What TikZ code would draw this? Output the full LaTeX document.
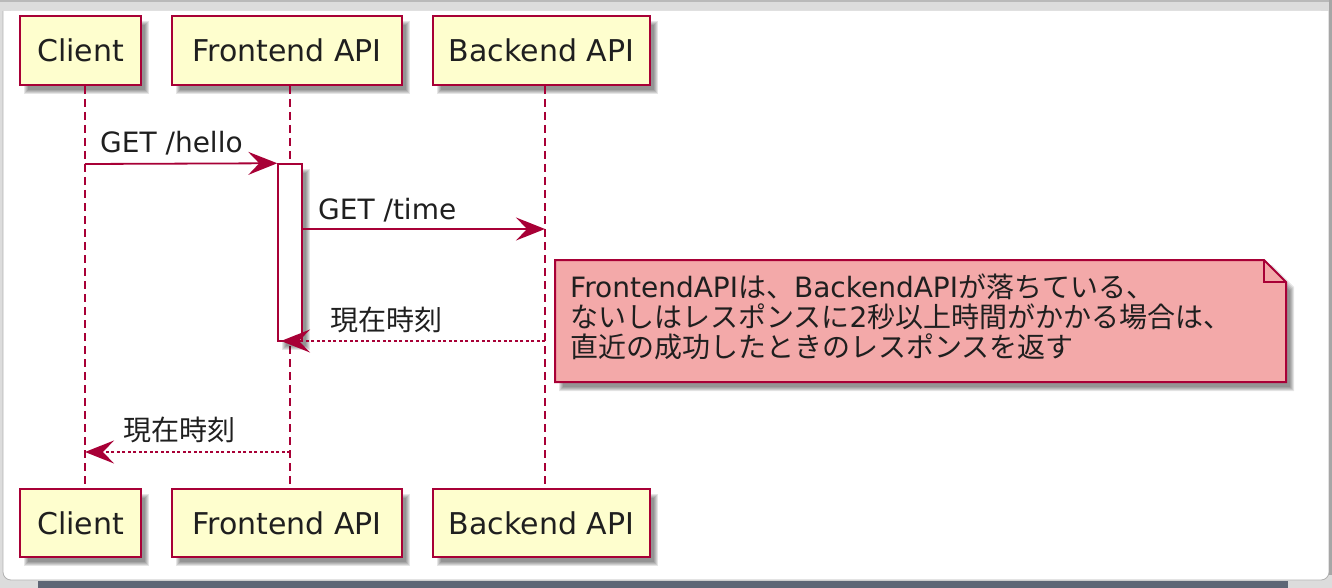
\documentclass[tikz,border=0pt]{standalone}
\usepackage{fontspec}
\setmainfont{DejaVu Sans}
\newfontfamily\jp{Noto Sans CJK JP}
\usetikzlibrary{arrows.meta}
\definecolor{pu}{HTML}{A80036}
\definecolor{pfill}{HTML}{FEFECE}
\definecolor{nfill}{HTML}{F3A9A9}
\definecolor{slate}{HTML}{5E6675}
\definecolor{winbg}{HTML}{DCDCDC}
\newcommand\myshadow[4]{%
  \foreach \e in {-2,-1,0,1,2}{%
    \fill[black,opacity=0.1] ({#1+6+\e},{#2+7+\e}) rectangle ({#3+6-\e},{#4+7-\e});}}
\tikzset{
  partbox/.style={draw=pu, line width=2pt, fill=pfill, inner sep=0pt,
    font=\fontsize{30}{36}\selectfont, text=black!88},
  lifeline/.style={draw=pu, line width=1.6pt, dash pattern=on 8pt off 5pt},
  msg/.style={draw=pu, line width=1.8pt, -{Stealth[length=29pt,width=23pt,inset=11pt]}},
  ret/.style={draw=pu, line width=1.5pt, dash pattern=on 3pt off 2.5pt,
    -{Stealth[length=29pt,width=23pt,inset=11pt]}},
  lbl/.style={anchor=base west, inner sep=0pt, font=\fontsize{28}{34}\selectfont, text=black!88},
  actbox/.style={draw=pu, line width=1.5pt, fill=white, inner sep=0pt},
}
\begin{document}
\begin{tikzpicture}[x=1pt,y=-1pt]
\useasboundingbox (0,0) rectangle (1332,588);
% window frame
\fill[winbg] (0,0) rectangle (1332,588);
\fill[gray!55] (0,0) rectangle (1332,2);
\fill[slate] (38,581) rectangle (1288,588);
\fill[white,rounded corners=8pt] (3,11) rectangle (1329,580);
\fill[white] (3,11) rectangle (1329,40);
\draw[gray!60,line width=0.8pt,rounded corners=8pt] (3,11) -- (3,580) -- (1329,580) -- (1329,11);
\fill[gray!70] (1329,0) rectangle (1332,575);

% top participants
\myshadow{20}{16}{141}{85}
\myshadow{172}{16}{402}{85}
\myshadow{433}{16}{650}{85}
\node[partbox, minimum width=121pt, minimum height=69pt] (c1) at (80.5,50.5) {Client};
\node[partbox, minimum width=230pt, minimum height=69pt] (f1) at (287,50.5) {Frontend API};
\node[partbox, minimum width=217pt, minimum height=69pt] (b1) at (541.5,50.5) {Backend API};

% bottom participants
\myshadow{20}{489}{141}{557}
\myshadow{172}{489}{402}{557}
\myshadow{433}{489}{650}{557}
\node[partbox, minimum width=121pt, minimum height=68pt] (c2) at (80.5,523) {Client};
\node[partbox, minimum width=230pt, minimum height=68pt] (f2) at (287,523) {Frontend API};
\node[partbox, minimum width=217pt, minimum height=68pt] (b2) at (541.5,523) {Backend API};

% lifeline ends
\coordinate (cT) at (85,86);  \coordinate (cB) at (85,488);
\coordinate (fT) at (290,86); \coordinate (fB) at (290,488);
\coordinate (bT) at (545,86); \coordinate (bB) at (545,488);
\draw[lifeline] (cT) -- (cB);
\draw[lifeline] (fT) -- (fB);
\draw[lifeline] (bT) -- (bB);

% activation
\myshadow{278}{164}{302}{341}
\node[actbox, minimum width=24pt, minimum height=177pt] (act) at (290,252.5) {};

% note
\foreach \e in {-2,-1,0,1,2}{%
  \fill[black,opacity=0.1] ({561+\e},{267+\e}) -- ({1270-\e},{267+\e}) -- ({1292-\e},{289+\e}) -- ({1292-\e},{389-\e}) -- ({561+\e},{389-\e}) -- cycle;}
\draw[pu, line width=2pt, fill=nfill] (555,260) -- (1264,260) -- (1286,282) -- (1286,382) -- (555,382) -- cycle;
\draw[pu, line width=2pt] (1264,260) -- (1264,282) -- (1286,282);
\node[lbl] (n1) at (570,297) {FrontendAPI{\jp は、}BackendAPI{\jp が落ちている、}};
\node[lbl] (n2) at (570,327) {{\jp ないしはレスポンスに}2{\jp 秒以上時間がかかる場合は、}};
\node[lbl] (n3) at (570,357) {{\jp 直近の成功したときのレスポンスを返す}};

% messages
\coordinate (m1s) at (85,164);
\draw[msg] (m1s) -- (act.north west);
\node[lbl] (l1) at (100,153) {GET /hello};

\coordinate (m2s) at (302,229);
\coordinate (m2e) at (545,229);
\draw[msg] (m2s) -- (m2e);
\node[lbl] (l2) at (318,219) {GET /time};

\coordinate (m3s) at (545,341);
\coordinate (m3e) at (281,341);
\draw[ret] (m3s) -- (m3e);
\node[lbl] (l3) at (330,330) {\jp 現在時刻};

\coordinate (m4s) at (290,452);
\coordinate (m4e) at (85,452);
\draw[ret] (m4s) -- (m4e);
\node[lbl] (l4) at (123,440) {\jp 現在時刻};
\end{tikzpicture}
\end{document}
